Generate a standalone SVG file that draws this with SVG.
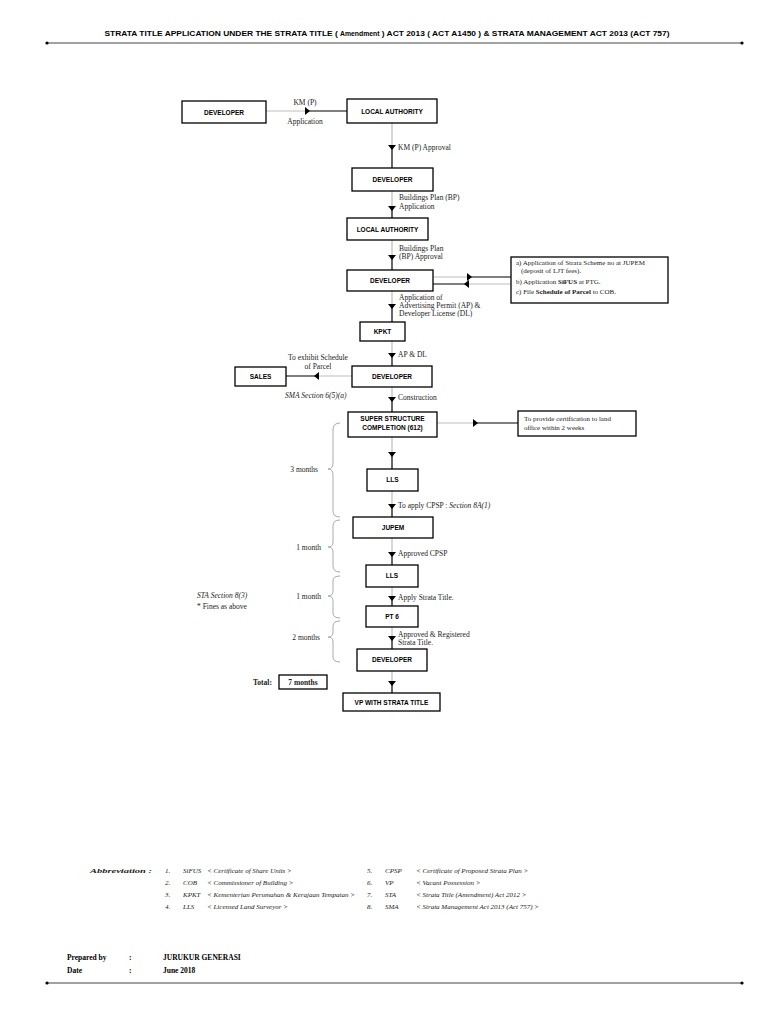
<svg xmlns="http://www.w3.org/2000/svg" width="768" height="1024" viewBox="0 0 768 1024">
<style>
.box{fill:#fff;stroke:#000;stroke-width:1.3}
.nl{font-family:"Liberation Sans",Arial,sans-serif;font-weight:bold;font-size:6.5px;text-anchor:middle;fill:#000}
.lb{font-family:"Liberation Serif","Times New Roman",serif;font-size:7.5px;fill:#222}
.sm{font-family:"Liberation Serif","Times New Roman",serif;font-size:7px;fill:#222}
.it{font-style:italic}
.g{stroke:#bdbdbd;stroke-width:1.2;fill:none}
.k{stroke:#000;stroke-width:1.2;fill:none}
.br{stroke:#aaa;stroke-width:1;fill:none}
.rule{stroke:#444;stroke-width:1}
.ab{font-family:"Liberation Serif","Times New Roman",serif;font-size:7px;font-style:italic;fill:#222}
.ft{font-family:"Liberation Serif","Times New Roman",serif;font-size:7.5px;font-weight:bold;fill:#000}
</style>
<defs>
<marker id="ah" viewBox="0 -4 6 8" refX="0" refY="0" markerWidth="6" markerHeight="8" markerUnits="userSpaceOnUse" orient="auto">
<path d="M0,-4 L5,0 L0,4 Z" fill="#000"/>
</marker>
</defs>
<rect width="768" height="1024" fill="#fff"/>

<!-- Title -->
<text x="387" y="36" font-family="Liberation Sans, Arial, sans-serif" font-weight="bold" font-size="8" text-anchor="middle" textLength="565" lengthAdjust="spacingAndGlyphs">STRATA TITLE APPLICATION UNDER THE STRATA TITLE ( <tspan font-size="6.5">Amendment</tspan> ) ACT 2013 ( ACT A1450 ) &amp; STRATA MANAGEMENT ACT 2013 (ACT 757)</text>
<line class="rule" x1="47" y1="43" x2="742" y2="43"/>
<circle cx="47" cy="43" r="1.6" fill="#000"/>
<circle cx="742" cy="43" r="1.6" fill="#000"/>

<!-- Connectors -->
<g id="connectors">
<g id="c1"><path class="g" d="M266,111 H305" marker-end="url(#ah)"/><path class="k" d="M305,111 H347"/></g>
<g id="c2"><path class="g" d="M392,123 V145" marker-end="url(#ah)"/><path class="k" d="M392,145 V168"/></g>
<g id="c3"><path class="g" d="M392,191 V206" marker-end="url(#ah)"/><path class="k" d="M392,206 V218"/></g>
<g id="c4"><path class="g" d="M392,240 V255" marker-end="url(#ah)"/><path class="k" d="M392,255 V270"/></g>
<g id="c5"><path class="g" d="M433,277 H467" marker-end="url(#ah)"/><path class="k" d="M467,277 H511"/></g>
<g id="c6"><path class="g" d="M511,284 H469" marker-end="url(#ah)"/><path class="k" d="M469,284 H433"/></g>
<g id="c7"><path class="g" d="M392,291 V304" marker-end="url(#ah)"/><path class="k" d="M392,304 V322"/></g>
<g id="c8"><path class="g" d="M392,341 V353" marker-end="url(#ah)"/><path class="k" d="M392,353 V366"/></g>
<g id="c9"><path class="g" d="M352,376 H319" marker-end="url(#ah)"/><path class="k" d="M319,376 H286"/></g>
<g id="c10"><path class="g" d="M392,387 V397" marker-end="url(#ah)"/><path class="k" d="M392,397 V412"/></g>
<g id="c11"><path class="g" d="M437,423 H473" marker-end="url(#ah)"/><path class="k" d="M473,423 H518"/></g>
<g id="c12"><path class="g" d="M392,437 V452" marker-end="url(#ah)"/><path class="k" d="M392,452 V469"/></g>
<g id="c13"><path class="g" d="M392,491 V504" marker-end="url(#ah)"/><path class="k" d="M392,504 V517"/></g>
<g id="c14"><path class="g" d="M392,538 V552" marker-end="url(#ah)"/><path class="k" d="M392,552 V565"/></g>
<g id="c15"><path class="g" d="M392,587 V596" marker-end="url(#ah)"/><path class="k" d="M392,596 V606"/></g>
<g id="c16"><path class="g" d="M392,627 V636" marker-end="url(#ah)"/><path class="k" d="M392,636 V649"/></g>
<g id="c17"><path class="g" d="M392,671 V681" marker-end="url(#ah)"/><path class="k" d="M392,681 V693"/></g>
</g>

<!-- Connector labels -->
<g id="labels">
<text class="lb" x="305" y="105" text-anchor="middle">KM (P)</text>
<text class="lb" x="305" y="124" text-anchor="middle">Application</text>
<text class="lb" x="398" y="150">KM (P) Approval</text>
<text class="lb" x="399" y="200">Buildings Plan (BP)</text>
<text class="lb" x="399" y="209">Application</text>
<text class="lb" x="399" y="251">Buildings Plan</text>
<text class="lb" x="399" y="259">(BP) Approval</text>
<text class="lb" x="399" y="300">Application of</text>
<text class="lb" x="399" y="308">Advertising Permit (AP) &amp;</text>
<text class="lb" x="399" y="316">Developer License (DL)</text>
<text class="lb" x="398" y="357">AP &amp; DL</text>
<text class="lb" x="318" y="360" text-anchor="middle">To exhibit Schedule</text>
<text class="lb" x="318" y="369" text-anchor="middle">of Parcel</text>
<text class="lb it" x="285" y="398">SMA Section 6(5)(a)</text>
<text class="lb" x="398" y="400">Construction</text>
<text class="lb" x="398" y="508">To apply CPSP :  <tspan font-style="italic">Section 8A(1)</tspan></text>
<text class="lb" x="398" y="556">Approved CPSP</text>
<text class="lb" x="398" y="600">Apply Strata Title.</text>
<text class="lb" x="398" y="637">Approved &amp; Registered</text>
<text class="lb" x="398" y="645">Strata Title.</text>
<text class="lb it" x="197" y="598">STA Section 8(3)</text>
<text class="lb" x="197" y="609">*  Fines as above</text>
</g>

<!-- Braces -->
<g id="braces">
<path class="br" d="M340,423 Q333,423 333,430 L333,463 Q333,469 328,469 Q333,469 333,475 L333,511 Q333,517 340,517"/>
<text class="lb" x="318" y="472" text-anchor="end">3 months</text>
<path class="br" d="M340,520 Q333,520 333,526 L333,542 Q333,547 328,547 Q333,547 333,552 L333,566 Q333,572 340,572"/>
<text class="lb" x="321" y="550" text-anchor="end">1 month</text>
<path class="br" d="M340,576 Q333,576 333,581 L333,591 Q333,596 328,596 Q333,596 333,601 L333,613 Q333,618 340,618"/>
<text class="lb" x="321" y="599" text-anchor="end">1 month</text>
<path class="br" d="M340,621 Q333,621 333,626 L333,632 Q333,637 328,637 Q333,637 333,642 L333,657 Q333,662 340,662"/>
<text class="lb" x="320" y="640" text-anchor="end">2 months</text>
</g>

<!-- Nodes -->
<g id="n-dev1"><rect class="box" x="182" y="101" width="84" height="22"/><text class="nl" x="224" y="114.5">DEVELOPER</text></g>
<g id="n-la1"><rect class="box" x="347" y="99" width="90" height="24"/><text class="nl" x="392" y="113.5">LOCAL AUTHORITY</text></g>
<g id="n-dev2"><rect class="box" x="352" y="168" width="81" height="23"/><text class="nl" x="392.5" y="182">DEVELOPER</text></g>
<g id="n-la2"><rect class="box" x="347" y="218" width="81" height="22"/><text class="nl" x="387.5" y="231.5">LOCAL AUTHORITY</text></g>
<g id="n-dev3"><rect class="box" x="347" y="270" width="86" height="21"/><text class="nl" x="390" y="283">DEVELOPER</text></g>
<g id="n-note1"><rect class="box" x="511" y="257" width="157" height="46"/>
<text class="sm" x="516" y="265">a) Application of Strata Scheme no at JUPEM</text>
<text class="sm" x="521" y="273">(deposit of LJT fees).</text>
<text class="sm" x="516" y="284">b) Application <tspan font-weight="bold">SiFUS</tspan> at PTG.</text>
<text class="sm" x="516" y="294">c) File <tspan font-weight="bold">Schedule of Parcel</tspan> to COB.</text></g>
<g id="n-kpkt"><rect class="box" x="360" y="322" width="45" height="19"/><text class="nl" x="382.5" y="334">KPKT</text></g>
<g id="n-sales"><rect class="box" x="235" y="367" width="51" height="19"/><text class="nl" x="260.5" y="379">SALES</text></g>
<g id="n-dev4"><rect class="box" x="352" y="366" width="80" height="21"/><text class="nl" x="392" y="379">DEVELOPER</text></g>
<g id="n-ss"><rect class="box" x="348" y="412" width="89" height="25"/><text class="nl" x="392.5" y="421">SUPER STRUCTURE</text><text class="nl" x="392.5" y="430">COMPLETION  (612)</text></g>
<g id="n-note2"><rect class="box" x="518" y="411" width="118" height="25"/>
<text class="sm" x="524" y="421">To provide certification to land</text>
<text class="sm" x="524" y="430">office within 2 weeks</text></g>
<g id="n-lls1"><rect class="box" x="367" y="469" width="51" height="22"/><text class="nl" x="392.5" y="482">LLS</text></g>
<g id="n-jupem"><rect class="box" x="353" y="517" width="80" height="21"/><text class="nl" x="393" y="530">JUPEM</text></g>
<g id="n-lls2"><rect class="box" x="366" y="565" width="52" height="22"/><text class="nl" x="392" y="578">LLS</text></g>
<g id="n-pt6"><rect class="box" x="366" y="606" width="52" height="21"/><text class="nl" x="392" y="619">PT 6</text></g>
<g id="n-dev5"><rect class="box" x="357" y="649" width="70" height="22"/><text class="nl" x="392" y="662">DEVELOPER</text></g>
<g id="n-total"><text class="lb" x="253" y="685" font-weight="bold">Total:</text><rect class="box" x="279" y="675" width="48" height="14"/><text class="lb" x="303" y="685" text-anchor="middle" font-weight="bold">7 months</text></g>
<g id="n-vp"><rect class="box" x="343" y="693" width="97" height="18"/><text class="nl" x="391.5" y="704.5">VP WITH STRATA TITLE</text></g>

<!-- Abbreviations -->
<g id="abbrev">
<text class="ab" x="90" y="873" font-weight="bold" font-size="8.5" textLength="62" lengthAdjust="spacingAndGlyphs">Abbreviation :</text>
<text class="ab" x="165" y="873">1.</text><text class="ab" x="183" y="873">SiFUS</text><text class="ab" x="207" y="873">&lt; Certificate of Share Units &gt;</text>
<text class="ab" x="165" y="885">2.</text><text class="ab" x="183" y="885">COB</text><text class="ab" x="207" y="885">&lt; Commissioner of Building &gt;</text>
<text class="ab" x="165" y="897">3.</text><text class="ab" x="183" y="897">KPKT</text><text class="ab" x="207" y="897">&lt; Kementerian Perumahan &amp; Kerajaan Tempatan &gt;</text>
<text class="ab" x="165" y="909">4.</text><text class="ab" x="183" y="909">LLS</text><text class="ab" x="207" y="909">&lt; Licensed Land Surveyor &gt;</text>
<text class="ab" x="367" y="873">5.</text><text class="ab" x="385" y="873">CPSP</text><text class="ab" x="416" y="873">&lt; Certificate of Proposed Strata Plan &gt;</text>
<text class="ab" x="367" y="885">6.</text><text class="ab" x="385" y="885">VP</text><text class="ab" x="416" y="885">&lt; Vacant Possession &gt;</text>
<text class="ab" x="367" y="897">7.</text><text class="ab" x="385" y="897">STA</text><text class="ab" x="416" y="897">&lt; Strata Title (Amendment) Act 2012 &gt;</text>
<text class="ab" x="367" y="909">8.</text><text class="ab" x="385" y="909">SMA</text><text class="ab" x="416" y="909">&lt; Strata Management Act 2013 (Act 757) &gt;</text>
</g>

<!-- Footer -->
<g id="footer">
<text class="ft" x="67" y="960">Prepared by</text><text class="ft" x="129" y="960">:</text><text class="ft" x="163" y="960">JURUKUR GENERASI</text>
<text class="ft" x="67" y="973">Date</text><text class="ft" x="129" y="973">:</text><text class="ft" x="163" y="973">June 2018</text>
<line class="rule" x1="47" y1="983" x2="742" y2="983"/>
<circle cx="47" cy="983" r="1.6" fill="#000"/>
<circle cx="742" cy="983" r="1.6" fill="#000"/>
</g>
</svg>
